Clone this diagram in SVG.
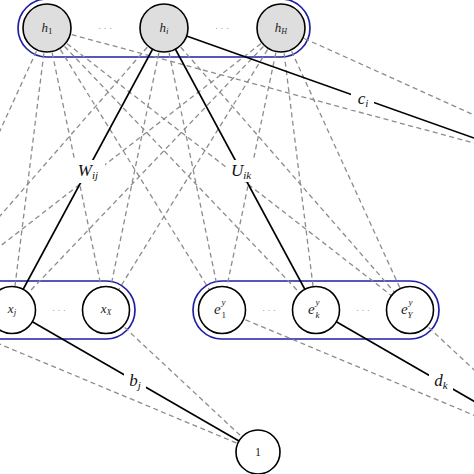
<svg xmlns="http://www.w3.org/2000/svg" width="474" height="474" viewBox="0 0 474 474">
<style>
.dash{stroke:#8c8c8c;stroke-width:1.3;stroke-dasharray:5 3.5;fill:none}
.solid{stroke:#000;stroke-width:1.6;fill:none}
.grp{stroke:#1f1fa8;stroke-width:1.7;fill:none}
.hn{fill:#dedede;stroke:#000;stroke-width:1.6}
.wn{fill:#fff;stroke:#000;stroke-width:1.6}
.bg{fill:#fff;stroke:none}
.m{font-family:"Liberation Serif",serif;font-style:italic;fill:#222}
.r{font-style:normal}
.dots{font-family:"Liberation Sans",sans-serif;font-size:9px;fill:#999;text-anchor:middle}
.lab{font-family:"Liberation Serif",serif;font-style:italic;font-size:17px;fill:#111}
</style>
<rect width="474" height="474" fill="#fff"/>
<g id="groups">
<rect class="grp" x="18" y="-1" width="292" height="58" rx="29"/>
<rect class="grp" x="-200" y="281" width="335" height="58" rx="29"/>
<rect class="grp" x="193" y="281" width="246" height="58" rx="29"/>
</g>
<g id="connectors">
<line class="dash" x1="47" y1="28" x2="-82" y2="310"/>
<line class="dash" x1="47" y1="28" x2="12" y2="310"/>
<line class="dash" x1="47" y1="28" x2="106" y2="310"/>
<line class="dash" x1="47" y1="28" x2="222" y2="310"/>
<line class="dash" x1="47" y1="28" x2="316" y2="310"/>
<line class="dash" x1="47" y1="28" x2="410" y2="310"/>
<line class="dash" x1="47" y1="28" x2="474" y2="143"/>
<line class="dash" x1="164" y1="28" x2="-82" y2="310"/>
<line class="dash" x1="164" y1="28" x2="106" y2="310"/>
<line class="dash" x1="164" y1="28" x2="222" y2="310"/>
<line class="dash" x1="164" y1="28" x2="410" y2="310"/>
<line class="dash" x1="281" y1="28" x2="-82" y2="310"/>
<line class="dash" x1="281" y1="28" x2="12" y2="310"/>
<line class="dash" x1="281" y1="28" x2="106" y2="310"/>
<line class="dash" x1="281" y1="28" x2="222" y2="310"/>
<line class="dash" x1="281" y1="28" x2="316" y2="310"/>
<line class="dash" x1="281" y1="28" x2="410" y2="310"/>
<line class="dash" x1="281" y1="28" x2="474" y2="115"/>
<line class="dash" x1="-82" y1="310" x2="258" y2="452"/>
<line class="dash" x1="106" y1="310" x2="258" y2="452"/>
<line class="dash" x1="222" y1="310" x2="562" y2="452"/>
<line class="dash" x1="410" y1="310" x2="562" y2="452"/>
<line class="solid" x1="164" y1="28" x2="12" y2="310"/>
<line class="solid" x1="164" y1="28" x2="316" y2="310"/>
<line class="solid" x1="164" y1="28" x2="474" y2="138"/>
<line class="solid" x1="12" y1="310" x2="258" y2="452"/>
<line class="solid" x1="316" y1="310" x2="562" y2="452"/>
</g>
<g id="labels">
<rect class="bg" x="73" y="160" width="32" height="23"/>
<rect class="bg" x="226" y="160" width="31" height="22"/>
<rect class="bg" x="351" y="93" width="23" height="17"/>
<rect class="bg" x="124" y="372" width="22" height="20"/>
<rect class="bg" x="429" y="372" width="24" height="20"/>
<text class="lab" x="88" y="176" text-anchor="middle">W<tspan font-size="11" dy="3">ij</tspan></text>
<text class="lab" x="241" y="176" text-anchor="middle">U<tspan font-size="11" dy="3">ik</tspan></text>
<text class="lab" x="363" y="104" text-anchor="middle">c<tspan font-size="11" dy="3">i</tspan></text>
<text class="lab" x="135" y="386" text-anchor="middle">b<tspan font-size="11" dy="3">j</tspan></text>
<text class="lab" x="441" y="386" text-anchor="middle">d<tspan font-size="11" dy="3">k</tspan></text>
</g>
<g id="node-h1"><circle class="hn" cx="47" cy="28" r="24"/><text class="m" x="47" y="32" font-size="13" text-anchor="middle">h<tspan class="r" font-size="9" dy="2">1</tspan></text></g>
<g id="node-hi"><circle class="hn" cx="164" cy="28" r="24"/><text class="m" x="164" y="32" font-size="13" text-anchor="middle">h<tspan font-size="9" dy="2">i</tspan></text></g>
<g id="node-hH"><circle class="hn" cx="281" cy="28" r="24"/><text class="m" x="281" y="32" font-size="13" text-anchor="middle">h<tspan font-size="8" dy="2">H</tspan></text></g>
<g id="node-xj"><circle class="wn" cx="12" cy="310" r="23.5"/><text class="m" x="12" y="313" font-size="13" text-anchor="middle">x<tspan font-size="9" dy="2">j</tspan></text></g>
<g id="node-xX"><circle class="wn" cx="106" cy="310" r="23.5"/><text class="m" x="106" y="313" font-size="13" text-anchor="middle">x<tspan font-size="8" dy="2">X</tspan></text></g>
<g id="node-e1"><circle class="wn" cx="222" cy="310" r="23.5"/><text class="m" x="214" y="314" font-size="15">e</text><text class="m" x="221.5" y="305" font-size="9">y</text><text class="m r" x="221.5" y="318" font-size="9" font-style="normal">1</text></g>
<g id="node-ek"><circle class="wn" cx="316" cy="310" r="23.5"/><text class="m" x="308" y="314" font-size="15">e</text><text class="m" x="315.5" y="305" font-size="9">y</text><text class="m" x="315.5" y="318" font-size="9">k</text></g>
<g id="node-eY"><circle class="wn" cx="410" cy="310" r="23.5"/><text class="m" x="401" y="314" font-size="15">e</text><text class="m" x="408.5" y="305" font-size="9">y</text><text class="m" x="407.5" y="318" font-size="9">Y</text></g>
<g id="node-one"><circle class="wn" cx="258" cy="452" r="22"/><text x="258" y="456" font-family="Liberation Serif,serif" font-size="12" text-anchor="middle" fill="#222">1</text></g>
<g id="dots">
<text class="dots" x="105" y="31">· · ·</text>
<text class="dots" x="222" y="31">· · ·</text>
<text class="dots" x="59" y="313">· · ·</text>
<text class="dots" x="269" y="313">· · ·</text>
<text class="dots" x="363" y="313">· · ·</text>
</g>
</svg>
